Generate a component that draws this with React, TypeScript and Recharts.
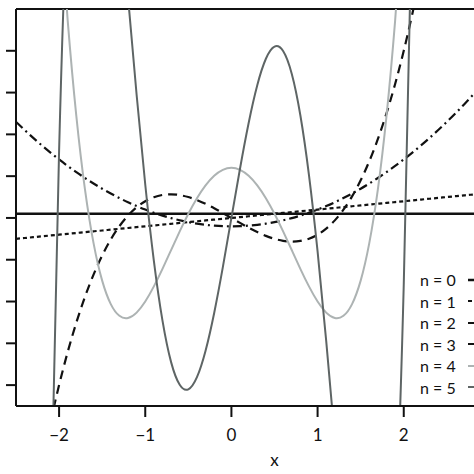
import { LineChart, Line, XAxis, YAxis, ReferenceLine, Legend, Label } from "recharts"

// x grid, -2.5 .. 3.5 by 0.1
const xs = [
  -2.5, -2.4, -2.3, -2.2, -2.1, -2.0, -1.9, -1.8, -1.7, -1.6, -1.5, -1.4, -1.3, -1.2, -1.1, -1.0,
  -0.9, -0.8, -0.7, -0.6, -0.5, -0.4, -0.3, -0.2, -0.1, 0.0, 0.1, 0.2, 0.3, 0.4, 0.5, 0.6, 0.7,
  0.8, 0.9, 1.0, 1.1, 1.2, 1.3, 1.4, 1.5, 1.6, 1.7, 1.8, 1.9, 2.0, 2.1, 2.2, 2.3, 2.4, 2.5, 2.6,
  2.7, 2.8, 2.9, 3.0, 3.1, 3.2, 3.3, 3.4, 3.5,
]

const n0 = [
  1, 1, 1, 1, 1, 1, 1, 1, 1, 1, 1, 1, 1, 1, 1, 1, 1, 1, 1, 1, 1, 1, 1, 1, 1, 1, 1, 1, 1, 1, 1,
  1, 1, 1, 1, 1, 1, 1, 1, 1, 1, 1, 1, 1, 1, 1, 1, 1, 1, 1, 1, 1, 1, 1, 1, 1, 1, 1, 1, 1, 1,
]

const n1 = [
  -5, -4.8, -4.6, -4.4, -4.2, -4, -3.8, -3.6, -3.4, -3.2, -3, -2.8, -2.6, -2.4, -2.2, -2,
  -1.8, -1.6, -1.4, -1.2, -1, -0.8, -0.6, -0.4, -0.2, 0, 0.2, 0.4, 0.6, 0.8, 1, 1.2, 1.4,
  1.6, 1.8, 2, 2.2, 2.4, 2.6, 2.8, 3, 3.2, 3.4, 3.6, 3.8, 4, 4.2, 4.4, 4.6, 4.8, 5, 5.2,
  5.4, 5.6, 5.8, 6, 6.2, 6.4, 6.6, 6.8, 7,
]

const n2 = [
  23, 21.04, 19.16, 17.36, 15.64, 14, 12.44, 10.96, 9.56, 8.24, 7, 5.84, 4.76, 3.76, 2.84, 2,
  1.24, 0.56, -0.04, -0.56, -1, -1.36, -1.64, -1.84, -1.96, -2, -1.96, -1.84, -1.64, -1.36, -1,
  -0.56, -0.04, 0.56, 1.24, 2, 2.84, 3.76, 4.76, 5.84, 7, 8.24, 9.56, 10.96, 12.44, 14, 15.64,
  17.36, 19.16, 21.04, 23, 25.04, 27.16, 29.36, 31.64, 34, 36.44, 38.96, 41.56, 44.24, 47,
]

const n3 = [
  -95, -81.79, -69.74, -58.78, -48.89, -40, -32.07, -25.06, -18.9, -13.57, -9, -5.15, -1.98,
  0.58, 2.55, 4, 4.97, 5.5, 5.66, 5.47, 5, 4.29, 3.38, 2.34, 1.19, 0, -1.19, -2.34, -3.38,
  -4.29, -5, -5.47, -5.66, -5.5, -4.97, -4, -2.55, -0.58, 1.98, 5.15, 9, 13.57, 18.9, 25.06,
  32.07, 40, 48.89, 58.78, 69.74, 81.79, 95, null, null, null, null, null, null, null, null,
  null, null,
]

const n4 = [
  null, null, null, null, 111.49, 76, 47.23, 24.44, 6.91, -6.02, -15, -20.61, -23.42, -23.94,
  -22.65, -20, -16.38, -12.17, -7.68, -3.21, 1, 4.73, 7.81, 10.11, 11.52, 12, 11.52, 10.11,
  7.81, 4.73, 1, -3.21, -7.68, -12.17, -16.38, -20, -22.65, -23.94, -23.42, -20.61, -15, -6.02,
  6.91, 24.44, 47.23, 76, 111.49, null, null, null, null, null, null, null, null, null, null,
  null, null, null, null,
]

const n5 = [
  null, null, null, null, -77.15, 16, 77.09, 112.46, 127.73, 127.82, 117, 98.94, 76.71, 52.85,
  29.42, 8, -10.26, -24.57, -34.5, -39.93, -41, -38.09, -31.76, -22.73, -11.84, 0, 11.84, 22.73,
  31.76, 38.09, 41, 39.93, 34.5, 24.57, 10.26, -8, -29.42, -52.85, -76.71, -98.94, -117,
  -127.82, -127.73, -112.46, -77.09, -16, 77.15, null, null, null, null, null, null, null, null,
  null, null, null, null, null, null,
]

const xTicks = [-2, -1, 0, 1, 2]
const yTicks = [-40, -30, -20, -10, 0, 10, 20, 30, 40]
const labels = ["n = 0", "n = 1", "n = 2", "n = 3", "n = 4", "n = 5"]

const data = xs.map((x, i) => ({ x, n0: n0[i], n1: n1[i], n2: n2[i], n3: n3[i], n4: n4[i], n5: n5[i] }))

const series = [
  { key: "n0", color: "#111", width: 2.5, dash: undefined },
  { key: "n1", color: "#111", width: 2.2, dash: "4 3" },
  { key: "n2", color: "#111", width: 2.2, dash: "9 4 2 4" },
  { key: "n3", color: "#111", width: 2.2, dash: "9 6" },
  { key: "n4", color: "#adb3b3", width: 2, dash: undefined },
  { key: "n5", color: "#5e6565", width: 2, dash: undefined },
]

const minus = (v: number) => String(v).replace("-", "\u2212")

function LegendBox() {
  return (
    <div style={{ fontFamily: "Lato", fontSize: 16, color: "#111" }}>
      {series.map((s, i) => (
        <div key={s.key} style={{ display: "flex", alignItems: "center", height: 21.5 }}>
          <span style={{ width: 48, whiteSpace: "nowrap" }}>{labels[i]}</span>
          <svg width={40} height={6}>
            <line x1={0} y1={3} x2={40} y2={3} stroke={s.color} strokeWidth={s.width} strokeDasharray={s.dash} />
          </svg>
        </div>
      ))}
    </div>
  )
}

export default function App() {
  return (
    <div style={{ position: "absolute", left: 0, top: 0, width: 474, height: 474, overflow: "hidden", background: "#fff" }}>
      <div style={{ position: "absolute", left: -64, top: 0 }}>
        <LineChart width={597} height={474} data={data} margin={{ top: 9, right: 0, bottom: 0, left: 0 }} style={{ fontFamily: "Lato" }}>
          <XAxis
            dataKey="x"
            type="number"
            domain={[-2.5, 3.5]}
            ticks={xTicks}
            allowDataOverflow
            height={68}
            tickSize={11}
            tickMargin={12}
            tickFormatter={minus}
            tick={{ fill: "#111", fontSize: 17 }}
            axisLine={{ stroke: "#111", strokeWidth: 2 }}
            tickLine={{ stroke: "#111", strokeWidth: 2 }}
          >
            <Label value="x" position="insideBottom" offset={8} fill="#111" fontSize={17} />
          </XAxis>
          {/* y tick labels fall outside the cropped frame, so only tick marks are drawn */}
          <YAxis
            type="number"
            domain={[-45, 50]}
            ticks={yTicks}
            allowDataOverflow
            width={80}
            tickSize={10}
            tick={() => <g />}
            axisLine={{ stroke: "#111", strokeWidth: 2 }}
            tickLine={{ stroke: "#111", strokeWidth: 2 }}
          />
          <ReferenceLine y={50} stroke="#111" strokeWidth={2} />
          {series.map((s, i) => (
            <Line
              key={s.key}
              dataKey={s.key}
              name={labels[i]}
              type="natural"
              stroke={s.color}
              strokeWidth={s.width}
              strokeDasharray={s.dash}
              dot={false}
              isAnimationActive={false}
            />
          ))}
          <Legend
            layout="vertical"
            align="center"
            verticalAlign="middle"
            wrapperStyle={{ left: 484, top: 269, width: 100 }}
            content={() => <LegendBox />}
          />
        </LineChart>
      </div>
    </div>
  )
}
